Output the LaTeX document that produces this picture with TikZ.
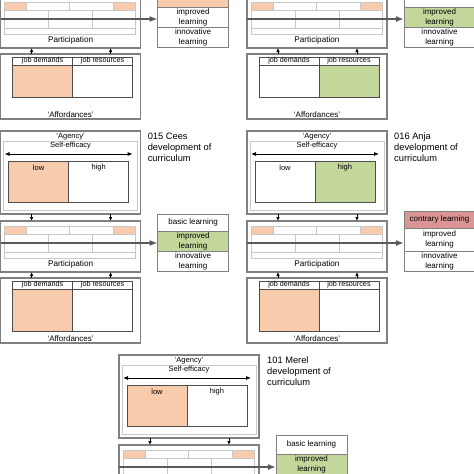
\documentclass[tikz,border=0pt]{standalone}
\usepackage{fontspec}
\setmainfont{Liberation Sans}
\usetikzlibrary{arrows.meta}
\definecolor{peach}{HTML}{F8CBAD}
\definecolor{sage}{HTML}{C4D79B}
\definecolor{rose}{HTML}{D99694}
\definecolor{boxgray}{HTML}{808080}
\definecolor{gridgray}{HTML}{C8C8C8}
\definecolor{tabgray}{HTML}{4D4D4D}
\definecolor{arrowgray}{HTML}{595959}
\tikzset{
 outerbox/.style={draw=boxgray, line width=1.2pt, anchor=north west, inner sep=0pt, outer sep=0pt},
 innerbox/.style={draw=gridgray, line width=0.9pt, anchor=north west, inner sep=0pt, outer sep=0pt},
 tabcell/.style={draw=tabgray, line width=0.8pt, anchor=north west, inner sep=0pt, outer sep=0pt},
 gridcell/.style={draw=gridgray, line width=0.7pt, anchor=north west, inner sep=0pt, outer sep=0pt},
 learnrow/.style={draw=boxgray, line width=1pt, anchor=north west, inner sep=0pt, outer sep=0pt,
   minimum width=71pt, align=center, font=\fontsize{8}{10}\selectfont},
 lbl/.style={inner sep=0pt, font=\fontsize{7.5}{9}\selectfont},
 sidelbl/.style={anchor=north west, inner sep=0pt, align=left, font=\fontsize{9.3}{11}\selectfont},
 smallarrow/.style={-{Latex[length=4pt,width=3.5pt]}, line width=0.8pt, black},
 dblarrow/.style={{Latex[length=5pt,width=4pt]}-{Latex[length=5pt,width=4pt]}, line width=0.8pt, black},
 flowarrow/.style={-{Latex[length=8pt,width=6pt]}, line width=1.6pt, arrowgray},
}
\newcommand\agencyblk[3]{%
 \node[outerbox, minimum width=140pt, minimum height=83pt] (#1ag) at (0,131) {};
 \node[innerbox, minimum width=134pt, minimum height=69pt] (#1se) at (3,141) {};
 \node[lbl] (#1agt) at (70,136.5) {‘Agency’};
 \node[lbl] (#1set) at (70,146) {Self-efficacy};
 \node[tabcell, fill=#2, minimum width=60pt, minimum height=41pt] (#1low) at (8,161) {};
 \node[tabcell, fill=#3, minimum width=60pt, minimum height=41pt] (#1high) at (68,161) {};
 \node[lbl] (#1lowt) at (38,168) {low};
 \node[lbl] (#1hight) at (98,168) {high};
 \coordinate (#1sl) at (4,154);
 \coordinate (#1sr) at (132,154);
 \draw[dblarrow] (#1sl) -- (#1sr);
}
\newcommand\partblk[1]{%
 \node[outerbox, minimum width=140pt, minimum height=51pt] (#1pt) at (0,221) {};
 \node[gridcell, fill=peach, minimum width=22pt, minimum height=8pt] (#1ga) at (4,226) {};
 \node[gridcell, minimum width=43pt, minimum height=8pt] (#1gb) at (26,226) {};
 \node[gridcell, minimum width=44pt, minimum height=8pt] (#1gc) at (69,226) {};
 \node[gridcell, fill=peach, minimum width=22pt, minimum height=8pt] (#1gd) at (113,226) {};
 \node[gridcell, minimum width=44pt, minimum height=18pt] (#1ge) at (4,234) {};
 \node[gridcell, minimum width=44pt, minimum height=18pt] (#1gf) at (48,234) {};
 \node[gridcell, minimum width=43pt, minimum height=18pt] (#1gg) at (92,234) {};
 \node[gridcell, minimum width=131pt, minimum height=6pt] (#1gh) at (4,252) {};
 \node[lbl, font=\fontsize{8.2}{10}\selectfont] (#1ptt) at (70,264) {Participation};
}
\newcommand\affblk[4]{%
 \node[outerbox, minimum width=140pt, minimum height=65pt] (#1af) at (0,278) {};
 \node[tabcell, minimum width=60pt, minimum height=8pt, text height=5.2pt, text depth=1.5pt,
   font=\fontsize{7.2}{8}\selectfont] (#1jd) at (12,281) {job demands};
 \node[tabcell, minimum width=60pt, minimum height=8pt, text height=5.2pt, text depth=1.5pt,
   font=\fontsize{7.2}{8}\selectfont] (#1jr) at (72,281) {job resources};
 \node[tabcell, fill=#2, minimum width=60pt, minimum height=#4pt] (#1jdb) at (12,289) {};
 \node[tabcell, fill=#3, minimum width=60pt, minimum height=#4pt] (#1jrb) at (72,289) {};
 \node[lbl, font=\fontsize{8}{10}\selectfont] (#1aft) at (70,338.5) {‘Affordances’};
}
\newcommand\learnblk[7]{%
 \node[learnrow, fill=#5, minimum height=#3pt] (#1top) at (157,#2) {#4};
 \node[learnrow, fill=#6, minimum height=#7pt] (#1imp) at (#1top.south west) {improved\\learning};
 \node[learnrow, minimum height=20pt] (#1inn) at (#1imp.south west) {innovative\\learning};
}
\newcommand\downlinks[1]{%
 \draw[smallarrow] ([xshift=31pt]#1ag.south west) -- ([xshift=31pt]#1pt.north west);
 \draw[smallarrow] ([xshift=110pt]#1ag.south west) -- ([xshift=110pt]#1pt.north west);
}
\newcommand\uplinks[1]{%
 \draw[smallarrow] ([xshift=31pt]#1af.north west) -- ([xshift=31pt]#1pt.south west);
 \draw[smallarrow] ([xshift=110pt]#1af.north west) -- ([xshift=110pt]#1pt.south west);
}
\newcommand\flow[1]{%
 \draw[flowarrow] ([yshift=-22pt]#1pt.north west) -- ([yshift=-22pt]#1pt.north west -| #1imp.west);
}
\begin{document}
\begin{tikzpicture}[x=1pt,y=-1pt]
\useasboundingbox (0,0) rectangle (474,474);
\clip (0,0) rectangle (474,474);
\fill[white] (0,0) rectangle (474,474);
% panel A (top left)
\begin{scope}[shift={(0.6,-224)}]
 \partblk{a}
 \affblk{a}{peach}{white}{32}
 \learnblk{a}{214}{17}{}{peach}{white}{20}
 \uplinks{a}
 \flow{a}
\end{scope}
% panel B (top right)
\begin{scope}[shift={(247,-224)}]
 \partblk{b}
 \affblk{b}{white}{sage}{32}
 \learnblk{b}{214}{17}{}{white}{sage}{20}
 \uplinks{b}
 \flow{b}
\end{scope}
% panel C (015 Cees)
\begin{scope}[shift={(0.6,0)}]
 \agencyblk{c}{peach}{white}
 \node[sidelbl] (clab) at (147,133) {015 Cees\\development of\\curriculum};
 \partblk{c}
 \affblk{c}{peach}{white}{42}
 \learnblk{c}{214}{17}{basic learning}{white}{sage}{20}
 \downlinks{c}
 \uplinks{c}
 \flow{c}
\end{scope}
% panel D (016 Anja)
\begin{scope}[shift={(247,0)}]
 \agencyblk{d}{white}{sage}
 \node[sidelbl] (dlab) at (147,133) {016 Anja\\development of\\curriculum};
 \partblk{d}
 \affblk{d}{peach}{white}{42}
 \learnblk{d}{211}{17}{contrary learning}{rose}{white}{23}
 \downlinks{d}
 \uplinks{d}
 \flow{d}
\end{scope}
% panel E (101 Merel)
\begin{scope}[shift={(119,224)}]
 \agencyblk{e}{peach}{white}
 \node[sidelbl] (elab) at (148,133) {101 Merel\\development of\\curriculum};
 \partblk{e}
 \learnblk{e}{211}{19}{basic learning}{white}{sage}{21}
 \downlinks{e}
 \flow{e}
\end{scope}
\end{tikzpicture}
\end{document}
